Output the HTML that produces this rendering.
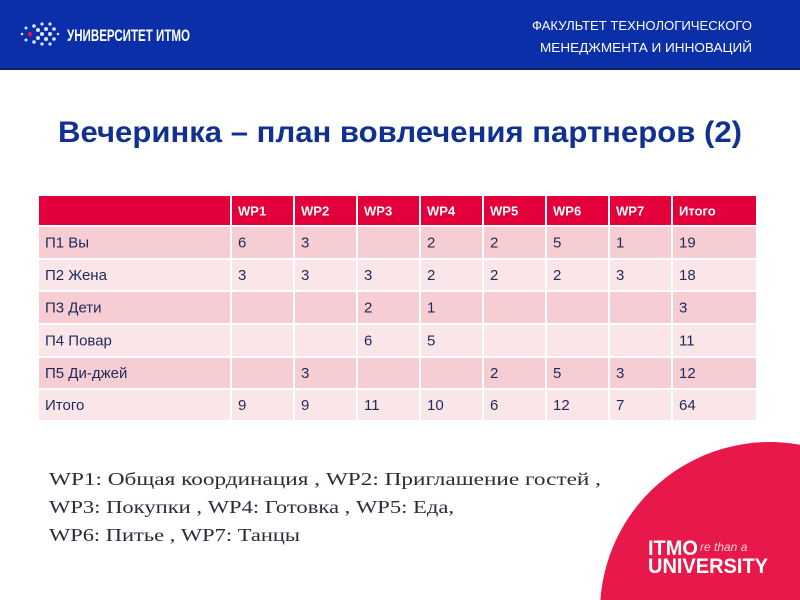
<!DOCTYPE html>
<html><head><meta charset="utf-8"><style>
html,body{margin:0;padding:0;background:#fff;width:800px;height:600px;overflow:hidden;}
svg{display:block;font-family:"Liberation Sans","DejaVu Sans",sans-serif;overflow:hidden;}
</style></head><body>
<svg width="800" height="600" viewBox="0 0 800 600">
<rect x="0" y="0" width="800" height="600" fill="#fff"/>
<path d="M600.4,600 A170,170 0 0 1 800,444.7 L800,600 Z" fill="#e8184a"/>
<rect x="0" y="0" width="800" height="68" fill="#0a2fa8"/>
<rect x="0" y="68" width="800" height="2" fill="#0a1f6a"/>
<g fill="#dfe6ff">
<circle cx="22" cy="34" r="1.3"/><circle cx="26" cy="28" r="1.5"/><circle cx="26" cy="40" r="1.5"/><circle cx="30" cy="34" r="2" fill="#e8184a"/>
<circle cx="34" cy="26" r="1.8"/><circle cx="34" cy="42" r="1.8"/><circle cx="38" cy="30" r="2"/><circle cx="38" cy="38" r="2"/>
<circle cx="42" cy="24" r="1.6"/><circle cx="42" cy="34" r="2"/><circle cx="42" cy="44" r="1.6"/><circle cx="46" cy="29" r="2"/><circle cx="46" cy="39" r="2"/>
<circle cx="50" cy="24" r="1.6"/><circle cx="50" cy="34" r="2"/><circle cx="50" cy="44" r="1.6"/><circle cx="54" cy="29" r="1.8"/><circle cx="54" cy="39" r="1.8"/><circle cx="58" cy="34" r="1.3"/>
</g>
<text x="67" y="41" font-size="17" font-weight="bold" fill="#fff" textLength="123" lengthAdjust="spacingAndGlyphs">УНИВЕРСИТЕТ ИТМО</text>
<text x="752" y="30" font-size="12.5" fill="#fff" text-anchor="end" textLength="220" lengthAdjust="spacingAndGlyphs">ФАКУЛЬТЕТ  ТЕХНОЛОГИЧЕСКОГО</text>
<text x="752" y="52" font-size="12.5" fill="#fff" text-anchor="end" textLength="212" lengthAdjust="spacingAndGlyphs">МЕНЕДЖМЕНТА И ИННОВАЦИЙ</text>
<text x="58" y="142" font-size="30" font-weight="bold" fill="#10318f" textLength="684" lengthAdjust="spacingAndGlyphs">Вечеринка – план вовлечения партнеров (2)</text>
<g id="tbl"></g>
<g font-family="Liberation Serif,serif" font-size="18" fill="#2a2a3a">
<text x="49" y="485" textLength="552" lengthAdjust="spacingAndGlyphs">WP1: Общая координация , WP2: Приглашение гостей ,</text>
<text x="49" y="513" textLength="405" lengthAdjust="spacingAndGlyphs">WP3: Покупки , WP4: Готовка , WP5: Еда,</text>
<text x="49" y="541" textLength="251" lengthAdjust="spacingAndGlyphs">WP6: Питье , WP7: Танцы</text>
</g>
<g fill="#fff">
<text x="648" y="555" font-size="21" font-weight="bold" textLength="50" lengthAdjust="spacingAndGlyphs">ITMO</text>
<text x="700" y="551" font-size="12" font-style="italic" fill="#ffd0da">re than a</text>
<text x="648" y="573" font-size="21" font-weight="bold" textLength="120" lengthAdjust="spacingAndGlyphs">UNIVERSITY</text>
</g>
</svg>
<script>
const columns=["","WP1","WP2","WP3","WP4","WP5","WP6","WP7","Итого"];
const rowLabels=["П1 Вы","П2 Жена","П3 Дети","П4 Повар","П5 Ди-джей","Итого"];
const values=[
["6","3","","2","2","5","1","19"],
["3","3","3","2","2","2","3","18"],
["","","2","1","","","","3"],
["","","6","5","","","","11"],
["","3","","","2","5","3","12"],
["9","9","11","10","6","12","7","64"]];
const NS="http://www.w3.org/2000/svg";
const g=document.getElementById('tbl');
const xs=[38,231,294,357,420,483,546,609,672,757];
const ys=[195,226,259,291,324,357,389,421];
function mk(t,a){const e=document.createElementNS(NS,t);for(const k in a)e.setAttribute(k,a[k]);g.appendChild(e);return e;}
for(let r=0;r<7;r++){
 for(let c=0;c<9;c++){
  const fill=r===0?'#e4003a':(r%2===1?'#f5cdd2':'#fae5e8');
  const rc=mk('rect',{x:xs[c],y:ys[r],width:xs[c+1]-xs[c],height:ys[r+1]-ys[r],fill:fill,stroke:'#fff','stroke-width':2});
  
  
  let txt=r===0?columns[c]:(c===0?rowLabels[r-1]:values[r-1][c-1]);
  if(txt){
   const t=mk('text',{x:xs[c]+7,y:ys[r]+(ys[r+1]-ys[r])/2+5,'font-size':r===0?13:15,'font-weight':r===0?'bold':'normal',fill:r===0?'#fff':'#1f2a5a'});
   t.textContent=txt;
   
   
  }
 }
}
</script>
</body></html>
